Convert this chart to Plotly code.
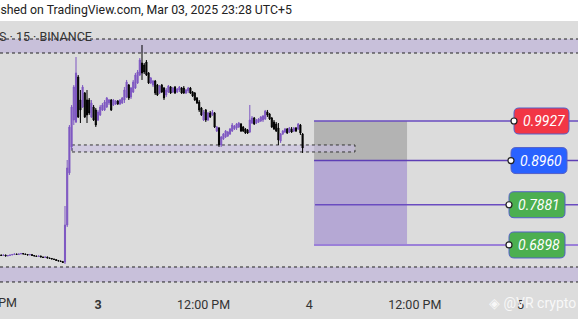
import pandas as pd
import plotly.graph_objects as go

# ---------------- data (15-minute candles) ----------------
start_time = "2025-03-02 13:00"

pre_open = [0.6653, 0.6641, 0.6653, 0.6629, 0.6641, 0.6653, 0.6666, 0.6678, 0.6666, 0.6678,
            0.6690, 0.6678, 0.6666, 0.6653, 0.6666, 0.6641, 0.6629, 0.6617, 0.6629, 0.6605,
            0.6592, 0.6605, 0.6580, 0.6568, 0.6556, 0.6543, 0.6519, 0.6507, 0.6495]
pre_high = [0.6665, 0.6660, 0.6660, 0.6650, 0.6660, 0.6672, 0.6685, 0.6684, 0.6684, 0.6697,
            0.6698, 0.6684, 0.6672, 0.6672, 0.6670, 0.6648, 0.6635, 0.6634, 0.6634, 0.6610,
            0.6610, 0.6610, 0.6586, 0.6572, 0.6560, 0.6548, 0.6524, 0.6512, 0.6500]
pre_low = [0.6635, 0.6636, 0.6622, 0.6624, 0.6636, 0.6648, 0.6660, 0.6660, 0.6660, 0.6672,
           0.6672, 0.6660, 0.6648, 0.6648, 0.6636, 0.6624, 0.6610, 0.6612, 0.6600, 0.6586,
           0.6586, 0.6574, 0.6562, 0.6550, 0.6538, 0.6512, 0.6500, 0.6488, 0.6462]
pre_close = [0.6641, 0.6653, 0.6629, 0.6641, 0.6653, 0.6666, 0.6678, 0.6666, 0.6678, 0.6690,
             0.6678, 0.6666, 0.6653, 0.6666, 0.6641, 0.6629, 0.6617, 0.6629, 0.6605, 0.6592,
             0.6605, 0.6580, 0.6568, 0.6556, 0.6543, 0.6519, 0.6507, 0.6495, 0.6470]

post_open = [0.6482, 0.7386, 0.8657, 0.9292, 0.9951, 0.9903, 1.1002, 1.0440, 1.0269, 1.0611,
             1.0440, 1.0440, 1.0025, 1.0269, 1.0196, 0.9951, 1.0074, 1.0196, 1.0196, 1.0269,
             1.0367, 1.0440, 1.0318, 1.0342, 1.0416, 1.0342, 1.0367, 1.0440, 1.0513, 1.0806,
             1.0513, 1.0635, 1.0733, 1.0855, 1.1051, 1.1344, 1.1295, 1.1368, 1.1100, 1.0855,
             1.0806, 1.0904, 1.0806, 1.0611, 1.0806, 1.0733, 1.0562, 1.0635, 1.0758, 1.0635,
             1.0758, 1.0635, 1.0684, 1.0733, 1.0733, 1.0611, 1.0660, 1.0733, 1.0635, 1.0611,
             1.0489, 1.0391, 1.0245, 0.9951, 1.0196, 0.9951, 1.0122, 1.0074, 1.0122, 0.9683,
             0.9756, 0.9341, 0.9488, 0.9536, 0.9561, 0.9610, 0.9683, 0.9732, 0.9756, 0.9780,
             0.9854, 0.9780, 0.9732, 0.9707, 0.9658, 0.9878, 1.0000, 0.9878, 0.9903, 0.9927,
             0.9951, 0.9976, 1.0147, 1.0098, 1.0000, 0.9903, 0.9854, 0.9756, 0.9439, 0.9610,
             0.9658, 0.9732, 0.9658, 0.9732, 0.9683, 0.9756, 0.9732, 0.9829, 0.9610]
post_high = [0.7850, 0.8974, 0.9829, 1.0318, 1.0806, 1.1490, 1.1051, 1.0684, 1.0806, 1.0635,
             1.0684, 1.0489, 1.0440, 1.0318, 1.0245, 1.0196, 1.0318, 1.0367, 1.0440, 1.0513,
             1.0464, 1.0464, 1.0464, 1.0440, 1.0440, 1.0464, 1.0513, 1.0758, 1.0929, 1.0831,
             1.0758, 1.0929, 1.1100, 1.1173, 1.1466, 1.1784, 1.1344, 1.1417, 1.1124, 1.1002,
             1.0929, 1.0929, 1.0831, 1.0806, 1.0831, 1.0758, 1.0733, 1.0806, 1.0782, 1.0758,
             1.0782, 1.0733, 1.0782, 1.0758, 1.0782, 1.0709, 1.0758, 1.0758, 1.0660, 1.0635,
             1.0513, 1.0440, 1.0269, 1.0196, 1.0220, 1.0147, 1.0171, 1.0196, 1.0147, 0.9805,
             0.9780, 0.9561, 0.9634, 0.9707, 0.9683, 0.9756, 0.9878, 0.9829, 0.9878, 0.9903,
             0.9878, 0.9805, 0.9756, 0.9732, 1.0318, 1.0049, 1.0025, 0.9976, 1.0000, 1.0049,
             1.0074, 1.0196, 1.0196, 1.0122, 1.0025, 0.9951, 0.9903, 0.9878, 0.9634, 0.9707,
             0.9756, 0.9756, 0.9780, 0.9780, 0.9780, 0.9780, 0.9878, 0.9854, 0.9634]
post_low = [0.6433, 0.7337, 0.8608, 0.9219, 0.9829, 0.9878, 1.0000, 0.9878, 1.0245, 1.0000,
            0.9878, 1.0074, 1.0000, 0.9927, 0.9780, 0.9927, 1.0049, 1.0171, 1.0171, 1.0245,
            1.0318, 1.0171, 1.0293, 1.0318, 1.0318, 1.0318, 1.0342, 1.0367, 1.0489, 1.0440,
            1.0464, 1.0611, 1.0709, 1.0831, 1.1026, 1.0929, 1.1075, 1.1026, 1.0831, 1.0831,
            1.0758, 1.0562, 1.0538, 1.0587, 1.0611, 1.0440, 1.0513, 1.0611, 1.0587, 1.0611,
            1.0587, 1.0611, 1.0635, 1.0587, 1.0587, 1.0587, 1.0611, 1.0587, 1.0513, 1.0416,
            1.0342, 1.0147, 1.0049, 0.9927, 0.9903, 0.9927, 1.0000, 1.0049, 0.9756, 0.9658,
            0.9292, 0.9292, 0.9463, 0.9512, 0.9536, 0.9585, 0.9658, 0.9707, 0.9707, 0.9756,
            0.9658, 0.9658, 0.9610, 0.9610, 0.9634, 0.9854, 0.9829, 0.9854, 0.9878, 0.9903,
            0.9903, 0.9951, 1.0025, 0.9951, 0.9756, 0.9707, 0.9658, 0.9341, 0.9390, 0.9585,
            0.9634, 0.9610, 0.9634, 0.9634, 0.9658, 0.9658, 0.9707, 0.9585, 0.9145]
post_close = [0.7386, 0.8779, 0.9780, 1.0269, 1.0758, 1.1100, 1.0025, 1.0196, 1.0758, 1.0025,
              1.0074, 1.0122, 1.0367, 0.9951, 0.9829, 1.0147, 1.0269, 1.0318, 1.0391, 1.0489,
              1.0440, 1.0196, 1.0440, 1.0416, 1.0342, 1.0440, 1.0489, 1.0684, 1.0880, 1.0489,
              1.0733, 1.0880, 1.1051, 1.1124, 1.1417, 1.1100, 1.1124, 1.1051, 1.0855, 1.0977,
              1.0904, 1.0611, 1.0562, 1.0782, 1.0635, 1.0489, 1.0684, 1.0782, 1.0611, 1.0733,
              1.0611, 1.0709, 1.0758, 1.0611, 1.0611, 1.0684, 1.0733, 1.0611, 1.0538, 1.0440,
              1.0367, 1.0196, 1.0074, 1.0147, 0.9951, 1.0122, 1.0025, 1.0147, 0.9780, 0.9780,
              0.9341, 0.9536, 0.9610, 0.9683, 0.9658, 0.9732, 0.9829, 0.9805, 0.9854, 0.9878,
              0.9683, 0.9683, 0.9634, 0.9634, 0.9951, 1.0000, 0.9854, 0.9951, 0.9976, 1.0025,
              1.0049, 1.0171, 1.0074, 0.9976, 0.9780, 0.9732, 0.9683, 0.9463, 0.9610, 0.9683,
              0.9732, 0.9634, 0.9756, 0.9658, 0.9756, 0.9683, 0.9854, 0.9634, 0.9268]

open_ = pre_open + post_open
high = pre_high + post_high
low = pre_low + post_low
close = pre_close + post_close
times = pd.date_range(start_time, periods=len(close), freq="15min")

# trade levels
levels = [0.9927, 0.8960, 0.7881, 0.6898]
level_labels = ["0.9927", "0.8960", "0.7881", "0.6898"]
level_colors = ["#f23645", "#2962ff", "#4caf50", "#4caf50"]

# zones (price ranges)
top_zone = (1.1588, 1.1930)
bottom_zone = (0.5994, 0.6360)
mid_zone = (0.9170, 0.9341)

tick_vals = ["2025-03-03 00:00", "2025-03-03 12:00", "2025-03-04 00:00",
             "2025-03-04 12:00", "2025-03-05 00:00"]
tick_text = ["<b>3</b>", "12:00 PM", "4", "12:00 PM", "5"]

# ---------------- style ----------------
W, H = 578, 324
MT, MB = 21, 32
PH = H - MT - MB
GRAY = "#dcdcdc"
LAV = "#c8c0da"
UP = "#7e57c2"
DN = "#000000"
FONT = "Roboto"
Y_RANGE = [0.5749, 1.2370]
PX = (Y_RANGE[1] - Y_RANGE[0]) / PH  # price per pixel

fig = go.Figure()
fig.add_trace(go.Candlestick(
    x=times, open=open_, high=high, low=low, close=close,
    increasing=dict(line=dict(color=UP, width=1), fillcolor=UP),
    decreasing=dict(line=dict(color=DN, width=1), fillcolor=DN),
    whiskerwidth=0, showlegend=False, hoverinfo="skip"))

shapes = []
# white strips top/bottom
shapes.append(dict(type="rect", xref="paper", yref="paper", x0=-0.01, x1=1.01,
                   y0=1, y1=1 + MT / PH + 0.01, fillcolor="white", line=dict(width=0), layer="below"))
shapes.append(dict(type="rect", xref="paper", yref="paper", x0=-0.01, x1=1.01,
                   y0=-(MB + 2) / PH, y1=-(319 - (H - MB)) / PH, fillcolor="white",
                   line=dict(width=0), layer="below"))

# horizontal zones
for (z0, z1) in [top_zone, bottom_zone]:
    shapes.append(dict(type="rect", xref="paper", yref="y", x0=0, x1=1, y0=z0, y1=z1,
                       fillcolor=LAV, line=dict(width=0), layer="below"))
    for zz in (z0, z1):
        shapes.append(dict(type="line", xref="paper", yref="y", x0=0, x1=1, y0=zz, y1=zz,
                           line=dict(color="#222", width=1, dash="dot"), layer="below"))

# position rectangles
rect_x0, rect_x1 = "2025-03-04 00:33", "2025-03-04 11:07"
shapes.append(dict(type="rect", xref="x", yref="y", x0=rect_x0, x1=rect_x1,
                   y0=levels[1], y1=levels[0], fillcolor="#b3b3b3", line=dict(width=0), layer="below"))
shapes.append(dict(type="rect", xref="x", yref="y", x0=rect_x0, x1=rect_x1,
                   y0=levels[3], y1=levels[1], fillcolor="#b5a8d4", line=dict(width=0), layer="below"))

# middle dotted zone
shapes.append(dict(type="rect", xref="x", yref="y", x0="2025-03-02 21:03", x1="2025-03-04 05:12",
                   y0=mid_zone[0], y1=mid_zone[1], fillcolor="rgba(200,190,228,0.55)",
                   line=dict(color="#333", width=1, dash="dot"), layer="below"))

# level lines
line_cols = ["#6a4cc0", "#5e3fb5", "#6a4cc0", "#9b80d8"]
line_w = [1.5, 1.5, 1.5, 2]
line_start = [rect_x0, rect_x0, "2025-03-04 00:40", rect_x0]
for lv, c, w, s in zip(levels, line_cols, line_w, line_start):
    shapes.append(dict(type="line", xref="x", yref="y", x0=s, x1="2025-03-06 00:00",
                       y0=lv, y1=lv, line=dict(color=c, width=w)))

# label boxes (rounded)
box_px = [(514, 569), (511, 567), (509, 565), (509, 565)]
annotations = []
for lv, lab, col, (bx0, bx1) in zip(levels, level_labels, level_colors, box_px):
    x0, x1 = bx0 / W, bx1 / W
    y0, y1 = lv - 13 * PX, lv + 13 * PX
    rx, ry = 5 / W, 5 * PX
    path = (f"M {x0+rx},{y0} L {x1-rx},{y0} Q {x1},{y0} {x1},{y0+ry} "
            f"L {x1},{y1-ry} Q {x1},{y1} {x1-rx},{y1} L {x0+rx},{y1} "
            f"Q {x0},{y1} {x0},{y1-ry} L {x0},{y0+ry} Q {x0},{y0} {x0+rx},{y0} Z")
    shapes.append(dict(type="path", xref="paper", yref="y", path=path, fillcolor=col,
                       line=dict(color="#5560c8", width=1)))
    shapes.append(dict(type="circle", xref="paper", yref="y", xsizemode="pixel", ysizemode="pixel",
                       xanchor=x0, yanchor=lv, x0=-3, x1=3, y0=-3, y1=3,
                       fillcolor="white", line=dict(color="#222", width=1.2)))
    annotations.append(dict(xref="paper", yref="y", x=(x0 + x1) / 2 + 2 / W, y=lv,
                            text=f"<i>{lab}</i>", showarrow=False,
                            font=dict(family=FONT, size=14, color="white"),
                            xanchor="center", yanchor="middle"))

# texts
annotations.append(dict(xref="paper", yref="paper", x=294 / W, y=1 + (MT - 10) / PH,
                        text="Published on TradingView.com, Mar 03, 2025 23:28 UTC+5",
                        showarrow=False, xanchor="right", yanchor="middle",
                        font=dict(family=FONT, size=12.3, color="#222")))
annotations.append(dict(xref="paper", yref="paper", x=-3 / W, y=1 - (36 - MT) / PH,
                        text="S · 15 · BINANCE", showarrow=False, xanchor="left", yanchor="middle",
                        font=dict(family=FONT, size=12.5, color="#333")))
annotations.append(dict(xref="paper", yref="paper", x=19 / W, y=-(303 - (H - MB)) / PH,
                        text="12:00 PM", showarrow=False, xanchor="right", yanchor="middle",
                        font=dict(family=FONT, size=12.5, color="#333")))
annotations.append(dict(xref="paper", yref="paper", x=1.0, y=-(303 - (H - MB)) / PH,
                        text="◈ @VR crypto", showarrow=False, xanchor="right", yanchor="middle",
                        font=dict(family=FONT, size=14, color="rgba(250,250,250,0.95)")))

fig.update_layout(
    width=W, height=H, margin=dict(l=0, r=0, t=MT, b=MB),
    paper_bgcolor=GRAY, plot_bgcolor=GRAY,
    shapes=shapes, annotations=annotations, showlegend=False,
    xaxis=dict(range=["2025-03-02 12:51:49", "2025-03-05 06:32:44"], showgrid=False,
               zeroline=False, showline=False, ticks="", tickvals=tick_vals, ticktext=tick_text,
               tickfont=dict(family=FONT, size=12.5, color="#333"), ticklabelstandoff=3,
               rangeslider=dict(visible=False), fixedrange=True),
    yaxis=dict(range=Y_RANGE, visible=False, showgrid=False, fixedrange=True),
)

fig.write_html("out.html")
